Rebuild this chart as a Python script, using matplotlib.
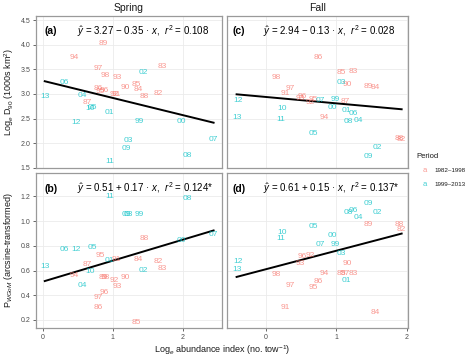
import numpy as np
import matplotlib.pyplot as plt

plt.rcParams['font.family'] = ['Liberation Sans', 'DejaVu Sans']
plt.rcParams['mathtext.fontset'] = 'custom'
plt.rcParams['mathtext.rm'] = 'Liberation Sans'
plt.rcParams['mathtext.it'] = 'Liberation Sans:italic'
plt.rcParams['mathtext.bf'] = 'Liberation Sans:bold'

years = ['82', '83', '84', '85', '86', '87', '88', '89', '90', '91', '92', '93', '94', '95', '96', '97', '98',
         '99', '00', '01', '02', '03', '04', '05', '06', '07', '08', '09', '10', '11', '12', '13']
period = ['1982–1998'] * 17 + ['1999–2013'] * 15

# spring
spring_x = [1.65, 1.71, 1.36, 1.33, 0.80, 0.63, 1.45, 0.87, 1.18, 1.05, 1.02, 1.07, 0.45, 0.83, 0.88, 0.80, 0.89,
            1.38, 1.98, 0.95, 1.44, 1.22, 0.57, 0.71, 0.31, 2.44, 2.06, 1.19, 0.68, 0.96, 0.48, 0.03]
spring_d90 = [3.01, 3.55, 3.10, 3.20, 3.11, 2.82, 2.95, 4.02, 3.14, 2.99, 2.99, 3.34, 3.74, 3.05, 3.08, 3.51, 3.37,
              2.45, 2.45, 2.63, 3.44, 2.06, 2.97, 2.72, 3.24, 2.08, 1.75, 1.89, 2.70, 1.62, 2.42, 2.95]
spring_pw = [0.67, 0.62, 0.69, 0.18, 0.30, 0.65, 0.86, 0.54, 0.54, 0.69, 0.52, 0.47, 0.56, 0.72, 0.42, 0.38, 0.54,
             1.05, 0.84, 0.68, 0.60, 1.05, 0.48, 0.79, 0.77, 0.89, 1.18, 1.05, 0.59, 1.20, 0.77, 0.63]
# fall
fall_x = [1.93, 1.24, 1.55, 1.07, 0.75, 1.13, 1.89, 1.46, 1.16, 0.28, 0.63, 0.49, 0.83, 0.68, 0.52, 0.35, 0.15,
          0.99, 0.95, 1.14, 1.58, 1.07, 1.32, 0.68, 1.25, 0.77, 1.17, 1.46, 0.23, 0.21, -0.39, -0.41]
fall_d90 = [2.07, 3.46, 3.14, 3.43, 3.75, 2.85, 2.09, 3.16, 3.19, 3.02, 2.82, 2.90, 2.52, 2.88, 2.95, 3.11, 3.33,
            2.89, 2.73, 2.66, 1.91, 3.24, 2.46, 2.19, 2.60, 2.87, 2.44, 1.72, 2.70, 2.48, 2.87, 2.53]
fall_pw = [0.93, 0.58, 0.26, 0.58, 0.51, 0.58, 0.97, 0.97, 0.66, 0.30, 0.72, 0.66, 0.58, 0.46, 0.71, 0.48, 0.57,
           0.81, 0.88, 0.52, 1.07, 0.74, 1.03, 0.96, 1.09, 0.81, 1.07, 1.14, 0.91, 0.86, 0.67, 0.61]

# fitted lines (intercept, slope) and labels
fits = {'a': (3.27, -0.35), 'b': (0.51, 0.17), 'c': (2.94, -0.13), 'd': (0.61, 0.15)}
eqs = {'a': r'$\hat{y}$ = 3.27 − 0.35 · $x$,  $r^2$ = 0.108',
       'b': r'$\hat{y}$ = 0.51 + 0.17 · $x$,  $r^2$ = 0.124*',
       'c': r'$\hat{y}$ = 2.94 − 0.13 · $x$,  $r^2$ = 0.028',
       'd': r'$\hat{y}$ = 0.61 + 0.15 · $x$,  $r^2$ = 0.137*'}

colors = {'1982–1998': '#F8766D', '1999–2013': '#00BFC4'}

W, H = 474, 358
fig = plt.figure(figsize=(W / 100, H / 100), dpi=100)

def box(l, t, r, b):
    return [l / W, 1 - b / H, (r - l) / W, (b - t) / H]

panels = {
    'a': (box(36, 16, 222, 167.7), spring_x, spring_d90, (-0.095, 2.56), (1.516, 4.587)),
    'b': (box(36, 173, 222, 328), spring_x, spring_pw, (-0.095, 2.56), (0.135, 1.39)),
    'c': (box(227, 16, 408, 167.7), fall_x, fall_d90, (-0.546, 2.02), (1.516, 4.587)),
    'd': (box(227, 173, 408, 328), fall_x, fall_pw, (-0.546, 2.02), (0.135, 1.39)),
}

axes = {}
for key, (pos, xs, ys, xl, yl) in panels.items():
    ax = fig.add_axes(pos)
    axes[key] = ax
    ax.set_xlim(xl)
    ax.set_ylim(yl)
    ax.grid(True, color='#EBEBEB', lw=0.6)
    ax.set_axisbelow(True)
    for s in ax.spines.values():
        s.set_color('#9a9a9a')
        s.set_linewidth(0.9)
    ax.tick_params(length=2.5, width=0.6, color='#4D4D4D', labelsize=5, labelcolor='#4D4D4D', pad=1.5)
    if key in ('a', 'c'):
        ax.set_yticks([1.5, 2.0, 2.5, 3.0, 3.5, 4.0, 4.5])
    else:
        ax.set_yticks([0.2, 0.4, 0.6, 0.8, 1.0, 1.2])
    ax.set_xticks([0, 1, 2])
    if key in ('a', 'c'):
        ax.tick_params(labelbottom=False, bottom=False)
    if key in ('c', 'd'):
        ax.tick_params(labelleft=False, left=False)
    for lab, px, py, per in zip(years, xs, ys, period):
        ax.text(px, py, lab, color=colors[per], alpha=0.75, fontsize=6, ha='center', va='center')
    b0, b1 = fits[key]
    xx = np.array([min(xs), max(xs)])
    ax.plot(xx, b0 + b1 * xx, color='black', lw=1.4)
    ax.text(0.045 if key in ('a', 'b') else 0.033, 0.9, '(' + key + ')', transform=ax.transAxes,
            fontsize=7.5, fontweight='bold', va='center', ha='left')
    ax.text(0.219 if key in ('a', 'b') else 0.2, 0.9, eqs[key], transform=ax.transAxes,
            fontsize=7, va='center', ha='left')

axes['a'].set_yticklabels(['1.5', '2.0', '2.5', '3.0', '3.5', '4.0', '4.5'])
axes['b'].set_yticklabels(['0.2', '0.4', '0.6', '0.8', '1.0', '1.2'])

fig.text(129 / W, 1 - 8 / H, 'Spring', ha='center', va='center', fontsize=7.5, color='#1A1A1A')
fig.text(317.5 / W, 1 - 8 / H, 'Fall', ha='center', va='center', fontsize=7.5, color='#1A1A1A')
fig.text(9 / W, 1 - 92 / H, r'Log$_e$ D$_{90}$ (1000s km$^2$)', rotation=90, ha='center', va='center',
         fontsize=6.5, color='#1A1A1A')
fig.text(9 / W, 1 - 250 / H, r'P$_{WGoM}$ (arcsine-transformed)', rotation=90, ha='center', va='center',
         fontsize=6.5, color='#1A1A1A')
fig.text(222 / W, 1 - 350 / H, r'Log$_e$ abundance index (no. tow$^{-1}$)', ha='center', va='center',
         fontsize=6.5, color='#1A1A1A')

# legend: period title, coloured "a" keys
fig.text(416 / W, 1 - 156 / H, 'Period', ha='left', va='center', fontsize=5.5, color='#1A1A1A')
for i, (p, c) in enumerate(colors.items()):
    yy = 1 - (170 + 15 * i) / H
    fig.text(425 / W, yy, 'a', ha='center', va='center', fontsize=5.5, color=c, alpha=0.75)
    fig.text(434 / W, yy, p, ha='left', va='center', fontsize=4.5, color='#1A1A1A')

fig.savefig('out.png', dpi=100)
